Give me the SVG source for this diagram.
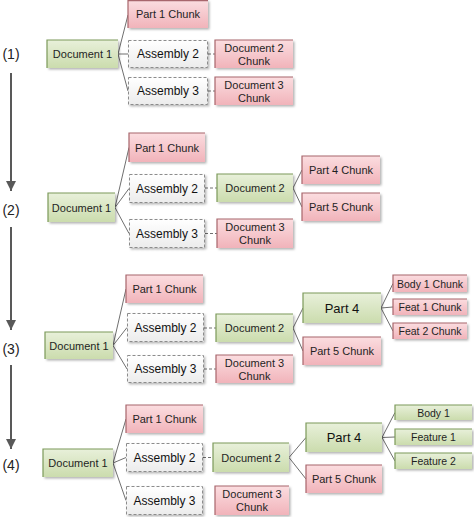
<svg xmlns="http://www.w3.org/2000/svg" width="474" height="517" viewBox="0 0 474 517">
<defs>
<linearGradient id="gG" x1="0" y1="0" x2="0" y2="1"><stop offset="0" stop-color="#e8f0da"/><stop offset="1" stop-color="#cbdcad"/></linearGradient>
<linearGradient id="gP" x1="0" y1="0" x2="0" y2="1"><stop offset="0" stop-color="#fbdde0"/><stop offset="1" stop-color="#f1b3ba"/></linearGradient>
<linearGradient id="gA" x1="0" y1="0" x2="0" y2="1"><stop offset="0" stop-color="#ffffff"/><stop offset="1" stop-color="#ececec"/></linearGradient>
<filter id="sh" x="-10%" y="-20%" width="130%" height="160%"><feDropShadow dx="1.5" dy="1.5" stdDeviation="0.8" flood-color="#000" flood-opacity="0.3"/></filter>
<marker id="ah" viewBox="0 0 10 10" refX="10" refY="5" markerWidth="10" markerHeight="10" markerUnits="userSpaceOnUse" orient="auto"><path d="M0,0 L10,5 L0,10 Z" fill="#595959"/></marker>
</defs>
<style>
.g{fill:url(#gG);filter:url(#sh)}
.p{fill:url(#gP);filter:url(#sh)}
.a{fill:url(#gA);stroke:#8c8c8c;stroke-width:1;stroke-dasharray:3 2;filter:url(#sh)}
.ge{fill:none;stroke:#7c9a5a;stroke-width:1.2}
.pe{fill:none;stroke:#a8666c;stroke-width:1.2}
.t{font-family:"Liberation Sans",Arial,sans-serif;font-size:11px;fill:#1f1f1f;text-anchor:middle;dominant-baseline:central}
.ta{font-family:"Liberation Sans",Arial,sans-serif;font-size:12px;fill:#111;text-anchor:middle;dominant-baseline:central}
.tb{font-family:"Liberation Sans",Arial,sans-serif;font-size:13px;fill:#111;text-anchor:middle;dominant-baseline:central}
.ts{font-family:"Liberation Sans",Arial,sans-serif;font-size:10.5px;fill:#1f1f1f;text-anchor:middle;dominant-baseline:central}
.tl{font-family:"Liberation Sans",Arial,sans-serif;font-size:14px;fill:#222;text-anchor:middle;dominant-baseline:central}
.c{fill:none;stroke:#6f6f6f;stroke-width:1}
.d{fill:none;stroke:#6f6f6f;stroke-width:1;stroke-dasharray:3 2}
.ar{stroke:#595959;stroke-width:2;fill:none}
</style>

<g id="steps">
<text class="tl" x="11" y="54">(1)</text>
<text class="tl" x="11" y="210">(2)</text>
<text class="tl" x="11" y="349">(3)</text>
<text class="tl" x="11" y="465">(4)</text>
<line class="ar" x1="11" y1="73" x2="11" y2="191" marker-end="url(#ah)"/>
<line class="ar" x1="11" y1="227" x2="11" y2="330" marker-end="url(#ah)"/>
<line class="ar" x1="11" y1="365" x2="11" y2="449" marker-end="url(#ah)"/>
</g>

<g id="connectors">
<path class="c" d="M118,54 L128,15 M118,54 L128,54 M118,54 L128,91"/>
<path class="d" d="M208,54 L215,54 M208,91 L215,91"/>
<path class="c" d="M115,207.5 L129,147.5 M115,207.5 L129,188.5 M115,207.5 L129,233.5"/>
<path class="d" d="M205,188 L217,188 M205,233.5 L217,233.5"/>
<path class="c" d="M293,188 L302,170 M293,188 L302,207"/>
<path class="c" d="M113,345.5 L126,289 M113,345.5 L127,327.5 M113,345.5 L127,369"/>
<path class="d" d="M204,328 L216,328 M204,369 L216,369"/>
<path class="c" d="M293,328 L303,308 M293,328 L303,351"/>
<path class="c" d="M381,308 L393,283.5 M381,308 L393,307 M381,308 L393,331"/>
<path class="c" d="M113,463 L126,419 M113,463 L126,457.5 M113,463 L126,500.5"/>
<path class="d" d="M203,457.5 L213,457.5"/>
<path class="c" d="M289,457.5 L306,437.5 M289,457.5 L306,479"/>
<path class="c" d="M382,437.5 L395,412.5 M382,437.5 L395,437 M382,437.5 L395,461"/>
</g>

<g id="s1-doc1"><rect class="g" x="47" y="40" width="71" height="28"/><path class="ge" d="M47,68 V40 H118"/><text class="t" x="82.5" y="54">Document 1</text></g>
<g id="s1-part1"><rect class="p" x="128" y="0" width="80" height="28"/><path class="pe" d="M128,28 V0.6 H208"/><text class="t" x="168" y="14">Part 1 Chunk</text></g>
<g id="s1-asm2"><rect class="a" x="128.5" y="40.5" width="79" height="27"/><text class="ta" x="168" y="54">Assembly 2</text></g>
<g id="s1-asm3"><rect class="a" x="128.5" y="77.5" width="79" height="27"/><text class="ta" x="168" y="91">Assembly 3</text></g>
<g id="s1-doc2c"><rect class="p" x="215" y="40" width="78" height="28"/><path class="pe" d="M215,68 V40 H293"/><text class="t" x="254" y="47.5">Document 2</text><text class="t" x="254" y="60.5">Chunk</text></g>
<g id="s1-doc3c"><rect class="p" x="215" y="77" width="78" height="28"/><path class="pe" d="M215,105 V77 H293"/><text class="t" x="254" y="84.5">Document 3</text><text class="t" x="254" y="97.5">Chunk</text></g>

<g id="s2-doc1"><rect class="g" x="48" y="193" width="67" height="29"/><path class="ge" d="M48,222 V193 H115"/><text class="t" x="81.5" y="207.5">Document 1</text></g>
<g id="s2-part1"><rect class="p" x="129" y="133" width="76" height="29"/><path class="pe" d="M129,162 V133 H205"/><text class="t" x="167" y="147.5">Part 1 Chunk</text></g>
<g id="s2-asm2"><rect class="a" x="129.5" y="174.5" width="75" height="28"/><text class="ta" x="167" y="188.5">Assembly 2</text></g>
<g id="s2-asm3"><rect class="a" x="129.5" y="219.5" width="75" height="28"/><text class="ta" x="167" y="233.5">Assembly 3</text></g>
<g id="s2-doc2"><rect class="g" x="217" y="174" width="76" height="28"/><path class="ge" d="M217,202 V174 H293"/><text class="t" x="255" y="188">Document 2</text></g>
<g id="s2-doc3c"><rect class="p" x="217" y="219" width="76" height="29"/><path class="pe" d="M217,248 V219 H293"/><text class="t" x="255" y="227">Document 3</text><text class="t" x="255" y="240">Chunk</text></g>
<g id="s2-part4c"><rect class="p" x="302" y="156" width="78" height="28"/><path class="pe" d="M302,184 V156 H380"/><text class="t" x="341" y="170">Part 4 Chunk</text></g>
<g id="s2-part5c"><rect class="p" x="302" y="193" width="78" height="28"/><path class="pe" d="M302,221 V193 H380"/><text class="t" x="341" y="207">Part 5 Chunk</text></g>

<g id="s3-doc1"><rect class="g" x="45" y="332" width="68" height="27"/><path class="ge" d="M45,359 V332 H113"/><text class="t" x="79" y="345.5">Document 1</text></g>
<g id="s3-part1"><rect class="p" x="126" y="275" width="77" height="28"/><path class="pe" d="M126,303 V275 H203"/><text class="t" x="164.5" y="289">Part 1 Chunk</text></g>
<g id="s3-asm2"><rect class="a" x="127.5" y="313.5" width="76" height="28"/><text class="ta" x="165.5" y="327.5">Assembly 2</text></g>
<g id="s3-asm3"><rect class="a" x="127.5" y="355.5" width="76" height="27"/><text class="ta" x="165.5" y="369">Assembly 3</text></g>
<g id="s3-doc2"><rect class="g" x="216" y="314" width="77" height="28"/><path class="ge" d="M216,342 V314 H293"/><text class="t" x="254.5" y="328">Document 2</text></g>
<g id="s3-doc3c"><rect class="p" x="216" y="355" width="77" height="28"/><path class="pe" d="M216,383 V355 H293"/><text class="t" x="254.5" y="362.5">Document 3</text><text class="t" x="254.5" y="375.5">Chunk</text></g>
<g id="s3-part4"><rect class="g" x="303" y="293" width="78" height="30"/><path class="ge" d="M303,323 V293 H381"/><text class="tb" x="342" y="308">Part 4</text></g>
<g id="s3-part5c"><rect class="p" x="303" y="337" width="78" height="28"/><path class="pe" d="M303,365 V337 H381"/><text class="t" x="342" y="351">Part 5 Chunk</text></g>
<g id="s3-body1c"><rect class="p" x="393" y="275" width="74" height="17"/><path class="pe" d="M393,292 V275 H467"/><text class="ts" x="430" y="283.5">Body 1 Chunk</text></g>
<g id="s3-feat1c"><rect class="p" x="393" y="299" width="74" height="16"/><path class="pe" d="M393,315 V299 H467"/><text class="ts" x="430" y="307">Feat 1 Chunk</text></g>
<g id="s3-feat2c"><rect class="p" x="393" y="323" width="74" height="16"/><path class="pe" d="M393,339 V323 H467"/><text class="ts" x="430" y="331">Feat 2 Chunk</text></g>

<g id="s4-doc1"><rect class="g" x="43" y="449" width="70" height="28"/><path class="ge" d="M43,477 V449 H113"/><text class="t" x="78" y="463">Document 1</text></g>
<g id="s4-part1"><rect class="p" x="126" y="405" width="77" height="28"/><path class="pe" d="M126,433 V405 H203"/><text class="t" x="164.5" y="419">Part 1 Chunk</text></g>
<g id="s4-asm2"><rect class="a" x="126.5" y="443.5" width="76" height="28"/><text class="ta" x="164.5" y="457.5">Assembly 2</text></g>
<g id="s4-asm3"><rect class="a" x="126.5" y="486.5" width="76" height="28"/><text class="ta" x="164.5" y="500.5">Assembly 3</text></g>
<g id="s4-doc2"><rect class="g" x="213" y="443" width="76" height="29"/><path class="ge" d="M213,472 V443 H289"/><text class="t" x="251" y="457.5">Document 2</text></g>
<g id="s4-doc3c"><rect class="p" x="215" y="486" width="74" height="29"/><path class="pe" d="M215,515 V486 H289"/><text class="t" x="252" y="494">Document 3</text><text class="t" x="252" y="507">Chunk</text></g>
<g id="s4-part4"><rect class="g" x="306" y="423" width="76" height="29"/><path class="ge" d="M306,452 V423 H382"/><text class="tb" x="344" y="437.5">Part 4</text></g>
<g id="s4-part5c"><rect class="p" x="306" y="465" width="76" height="28"/><path class="pe" d="M306,493 V465 H382"/><text class="t" x="344" y="479">Part 5 Chunk</text></g>
<g id="s4-body1"><rect class="g" x="395" y="405" width="77" height="15"/><path class="ge" d="M395,420 V405 H472"/><text class="ts" x="433.5" y="412.5">Body 1</text></g>
<g id="s4-feat1"><rect class="g" x="395" y="429" width="77" height="16"/><path class="ge" d="M395,445 V429 H472"/><text class="ts" x="433.5" y="437">Feature 1</text></g>
<g id="s4-feat2"><rect class="g" x="395" y="453" width="77" height="16"/><path class="ge" d="M395,469 V453 H472"/><text class="ts" x="433.5" y="461">Feature 2</text></g>
</svg>
